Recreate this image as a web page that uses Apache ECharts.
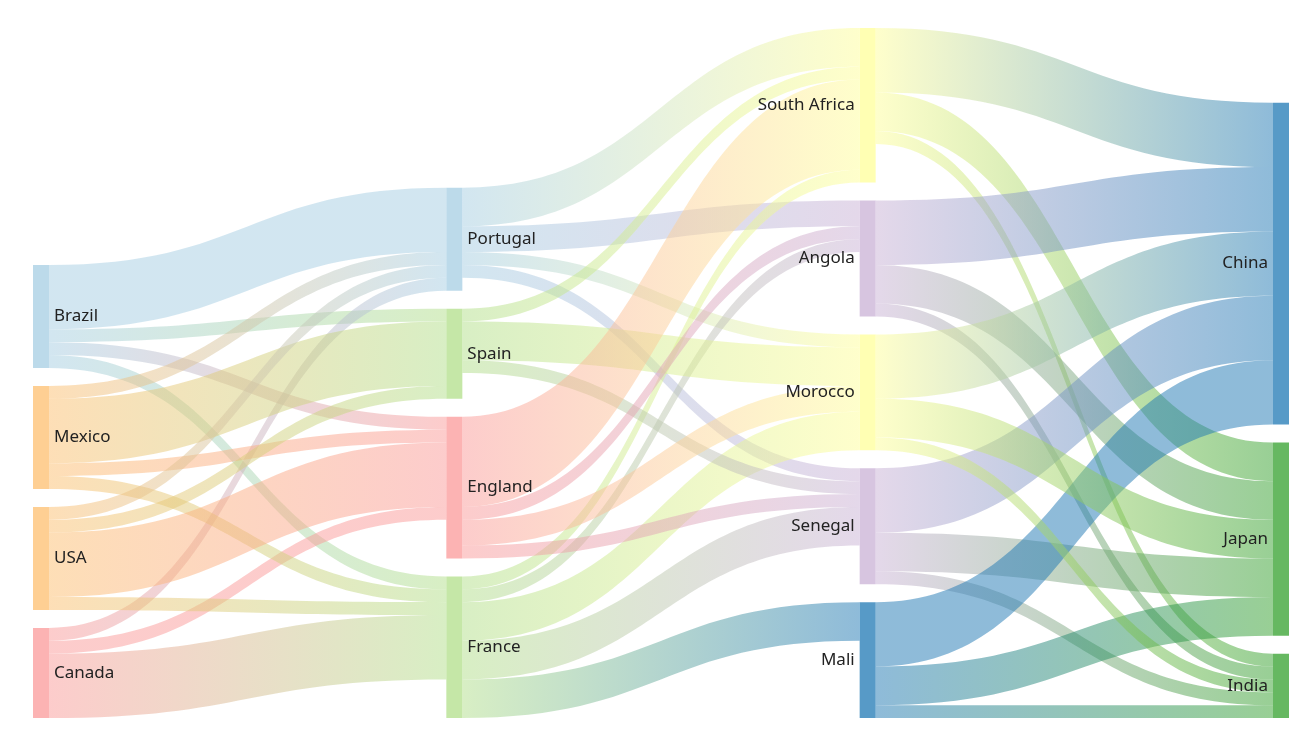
<!DOCTYPE html>
<html><head><meta charset="utf-8">
<script src="https://cdn.jsdelivr.net/npm/echarts@6/dist/echarts.min.js"></script>
<style>html,body{margin:0;padding:0;background:#fff}#c{width:1298px;height:741px}</style>
</head><body><div id="c"></div>
<script>
const nodeNames = ['Brazil','Mexico','USA','Canada','Portugal','Spain','England','France','South Africa','Angola','Morocco','Senegal','Mali','China','Japan','India'];
const nodeColors = ['#a6cee3','#fdbf6f','#fdbf6f','#fb9a99','#a6cee3','#b2df8a','#fb9a99','#b2df8a','#ffff99','#cab2d6','#ffff99','#cab2d6','#1f78b4','#1f78b4','#33a02c','#33a02c'];
const labelLeft = ['South Africa','Angola','Morocco','Senegal','Mali','China','Japan','India'];
const flows = [
['Brazil','Portugal',5],['Brazil','France',1],['Brazil','Spain',1],['Brazil','England',1],
['Canada','Portugal',1],['Canada','France',5],['Canada','England',1],
['Mexico','Portugal',1],['Mexico','France',1],['Mexico','Spain',5],['Mexico','England',1],
['USA','Portugal',1],['USA','France',1],['USA','Spain',1],['USA','England',5],
['Portugal','Angola',2],['Portugal','Senegal',1],['Portugal','Morocco',1],['Portugal','South Africa',3],
['France','Angola',1],['France','Senegal',3],['France','Mali',3],['France','Morocco',3],['France','South Africa',1],
['Spain','Senegal',1],['Spain','Morocco',3],['Spain','South Africa',1],
['England','Angola',1],['England','Senegal',1],['England','Morocco',2],['England','South Africa',7],
['South Africa','China',5],['South Africa','India',1],['South Africa','Japan',3],
['Angola','China',5],['Angola','India',1],['Angola','Japan',3],
['Senegal','China',5],['Senegal','India',1],['Senegal','Japan',3],
['Mali','China',5],['Mali','India',1],['Mali','Japan',3],
['Morocco','China',5],['Morocco','India',1],['Morocco','Japan',3]
];
const chart = echarts.init(document.getElementById('c'));
chart.setOption({
  series: [{
    type: 'sankey',
    left: 33, right: 9, top: 28, bottom: 23,
    nodeWidth: 16, nodeGap: 18,
    emphasis: {focus: 'adjacency'},
    data: nodeNames.map((n, i) => ({
      name: n,
      itemStyle: {color: nodeColors[i], opacity: 0.75, borderWidth: 0},
      label: {position: labelLeft.includes(n) ? 'left' : 'right'}
    })),
    links: flows.map(f => ({source: f[0], target: f[1], value: f[2]})),
    label: {fontSize: 17, color: '#222', fontFamily: 'Noto Sans'},
    lineStyle: {color: 'gradient', curveness: 0.5, opacity: 0.5}
  }]
});
</script></body></html>
